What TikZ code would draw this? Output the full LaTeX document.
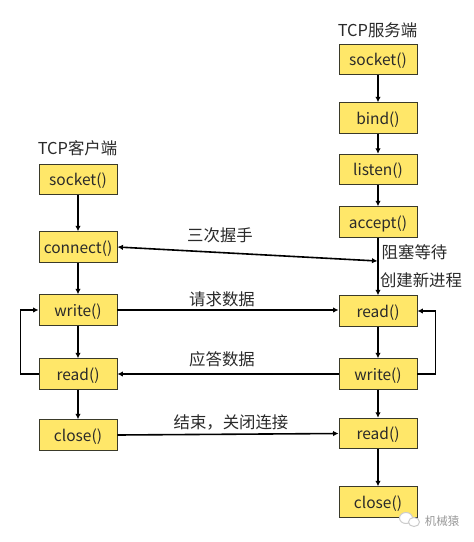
\documentclass[tikz,border=0pt]{standalone}
\usepackage{fontspec}
\setmainfont{Noto Sans CJK SC}
\usetikzlibrary{arrows.meta}
\definecolor{boxfill}{HTML}{FFE769}
\definecolor{boxline}{HTML}{3A3A2A}
\definecolor{txt}{HTML}{2A2A2A}
\tikzset{
  fn/.style={draw=boxline,line width=0.9pt,fill=boxfill,minimum width=78pt,minimum height=30.5pt,inner sep=0pt,text height=14pt,text depth=2pt,font=\fontsize{15.5}{18}\selectfont,text=txt},
  lbl/.style={inner sep=0pt,yshift=-1.5pt,font=\fontsize{16.4}{19}\selectfont,text=txt},
  conn/.style={line width=1.6pt,draw=black,-{Latex[length=5.5pt,width=5.5pt]}},
}
\begin{document}
\begin{tikzpicture}[x=1pt,y=-1pt]
\useasboundingbox (0,0) rectangle (474,542);
\fill[white] (0,0) rectangle (474,542);
% client
\node[fn] (cs) at (78,179.5) {socket()};
\node[fn] (cc) at (78,247) {connect()};
\node[fn] (cw) at (78,310) {write()};
\node[fn] (cr) at (78,374) {read()};
\node[fn] (cl) at (78,435) {close()};
% server
\node[fn] (ss) at (378,59.5) {socket()};
\node[fn] (sb) at (378,118) {bind()};
\node[fn] (sl) at (378,169.5) {listen()};
\node[fn] (sa) at (378,222) {accept()};
\node[fn] (sr) at (378,311) {read()};
\node[fn] (sw) at (378,374) {write()};
\node[fn] (sr2) at (378,433.5) {read()};
\node[fn] (sc) at (378,502) {close()};
% titles
\node[lbl] (tc) at (77.5,147) {TCP客户端};
\node[lbl] (ts) at (377.5,29) {TCP服务端};
% labels
\node[lbl] (l1) at (220,234) {三次握手};
\node[lbl] (l2) at (222,297.5) {请求数据};
\node[lbl] (l3) at (222,358) {应答数据};
\node[lbl] (l4) at (231,420.5) {结束，关闭连接};
\node[lbl] (l5) at (414.5,250.5) {阻塞等待};
\node[lbl] (l6) at (421,279) {创建新进程};
% vertical
\draw[conn] (cs) -- (cc);
\draw[conn] (cc) -- (cw);
\draw[conn] (cw) -- (cr);
\draw[conn] (cr) -- (cl);
\draw[conn] (ss) -- (sb);
\draw[conn] (sb) -- (sl);
\draw[conn] (sl) -- (sa);
\draw[conn] (sa) -- (sr);
\draw[conn] (sr) -- (sw);
\draw[conn] (sw) -- (sr2);
\draw[conn] (sr2) -- (sc);
% horizontal
\coordinate (hs) at (377.5,261);
\draw[conn,{Latex[length=5.5pt,width=5.5pt]}-{Latex[length=5.5pt,width=5.5pt]}] (cc.east) -- (hs);
\draw[conn] (cw.east) -- (sr.west |- cw.east);
\draw[conn] (sw.west) -- (cr.east);
\draw[conn] (cl.east) -- (sr2.west);
% loops
\draw[conn] (cr.west) -- ++(-18,0) |- (cw.west);
\draw[conn] (sw.east) -- ++(18,0) |- (sr.east);
% watermark
\draw[gray!40,line width=1pt,fill=white] (406,518) ellipse (6.5 and 5.5);
\draw[gray!40,line width=1pt,fill=white] (414,522) ellipse (5.5 and 4.5);
\node[inner sep=0pt,font=\fontsize{11.5}{13}\selectfont,text=gray!80] (wm) at (442,521) {机械猿};
\end{tikzpicture}
\end{document}
